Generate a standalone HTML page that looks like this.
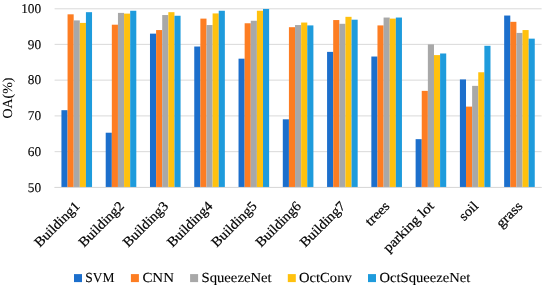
<!DOCTYPE html><html><head><meta charset="utf-8"><style>html,body{margin:0;padding:0;background:#fff}svg{display:block}text{font-family:"Liberation Serif",serif;font-size:13.8px;fill:#000;stroke:#000;stroke-width:0.1px;text-rendering:geometricPrecision}</style></head><body>
<svg width="550" height="289" viewBox="0 0 550 289">
<rect width="550" height="289" fill="#fff"/>
<line x1="54.6" x2="541.6" y1="8.80" y2="8.80" stroke="#d9d9d9" stroke-width="1"/>
<text x="21.21" y="12.80" style="font-size:13.4px;" textLength="20.00" lengthAdjust="spacingAndGlyphs">100</text>
<line x1="54.6" x2="541.6" y1="44.37" y2="44.37" stroke="#d9d9d9" stroke-width="1"/>
<text x="27.87" y="48.57" style="font-size:13.4px;" textLength="13.33" lengthAdjust="spacingAndGlyphs">90</text>
<line x1="54.6" x2="541.6" y1="80.14" y2="80.14" stroke="#d9d9d9" stroke-width="1"/>
<text x="27.87" y="84.34" style="font-size:13.4px;" textLength="13.33" lengthAdjust="spacingAndGlyphs">80</text>
<line x1="54.6" x2="541.6" y1="115.91" y2="115.91" stroke="#d9d9d9" stroke-width="1"/>
<text x="27.87" y="120.11" style="font-size:13.4px;" textLength="13.33" lengthAdjust="spacingAndGlyphs">70</text>
<line x1="54.6" x2="541.6" y1="151.68" y2="151.68" stroke="#d9d9d9" stroke-width="1"/>
<text x="27.87" y="155.88" style="font-size:13.4px;" textLength="13.33" lengthAdjust="spacingAndGlyphs">60</text>
<line x1="54.6" x2="541.6" y1="187.45" y2="187.45" stroke="#d9d9d9" stroke-width="1"/>
<text x="27.87" y="191.65" style="font-size:13.4px;" textLength="13.33" lengthAdjust="spacingAndGlyphs">50</text>
<rect x="61.44" y="110.19" width="6.12" height="77.26" fill="#1c6fcc"/>
<rect x="67.56" y="14.32" width="6.12" height="173.13" fill="#fd7d22"/>
<rect x="73.68" y="20.40" width="6.12" height="167.05" fill="#a8a8a8"/>
<rect x="79.80" y="22.91" width="6.12" height="164.54" fill="#ffc10e"/>
<rect x="85.92" y="12.18" width="6.12" height="175.27" fill="#1e9bdc"/>
<rect x="105.71" y="132.72" width="6.12" height="54.73" fill="#1c6fcc"/>
<rect x="111.83" y="24.70" width="6.12" height="162.75" fill="#fd7d22"/>
<rect x="117.95" y="12.89" width="6.12" height="174.56" fill="#a8a8a8"/>
<rect x="124.07" y="13.61" width="6.12" height="173.84" fill="#ffc10e"/>
<rect x="130.19" y="10.75" width="6.12" height="176.70" fill="#1e9bdc"/>
<rect x="149.98" y="33.64" width="6.12" height="153.81" fill="#1c6fcc"/>
<rect x="156.10" y="30.06" width="6.12" height="157.39" fill="#fd7d22"/>
<rect x="162.22" y="15.04" width="6.12" height="172.41" fill="#a8a8a8"/>
<rect x="168.34" y="12.18" width="6.12" height="175.27" fill="#ffc10e"/>
<rect x="174.46" y="15.75" width="6.12" height="171.70" fill="#1e9bdc"/>
<rect x="194.25" y="46.52" width="6.12" height="140.93" fill="#1c6fcc"/>
<rect x="200.37" y="18.62" width="6.12" height="168.83" fill="#fd7d22"/>
<rect x="206.49" y="25.05" width="6.12" height="162.40" fill="#a8a8a8"/>
<rect x="212.61" y="13.43" width="6.12" height="174.02" fill="#ffc10e"/>
<rect x="218.73" y="10.75" width="6.12" height="176.70" fill="#1e9bdc"/>
<rect x="238.53" y="58.68" width="6.12" height="128.77" fill="#1c6fcc"/>
<rect x="244.65" y="23.27" width="6.12" height="164.18" fill="#fd7d22"/>
<rect x="250.77" y="20.76" width="6.12" height="166.69" fill="#a8a8a8"/>
<rect x="256.89" y="10.75" width="6.12" height="176.70" fill="#ffc10e"/>
<rect x="263.01" y="8.96" width="6.12" height="178.49" fill="#1e9bdc"/>
<rect x="282.80" y="119.31" width="6.12" height="68.14" fill="#1c6fcc"/>
<rect x="288.92" y="27.20" width="6.12" height="160.25" fill="#fd7d22"/>
<rect x="295.04" y="25.05" width="6.12" height="162.40" fill="#a8a8a8"/>
<rect x="301.16" y="22.55" width="6.12" height="164.90" fill="#ffc10e"/>
<rect x="307.28" y="25.41" width="6.12" height="162.04" fill="#1e9bdc"/>
<rect x="327.07" y="51.88" width="6.12" height="135.57" fill="#1c6fcc"/>
<rect x="333.19" y="20.05" width="6.12" height="167.40" fill="#fd7d22"/>
<rect x="339.31" y="23.80" width="6.12" height="163.65" fill="#a8a8a8"/>
<rect x="345.43" y="16.83" width="6.12" height="170.62" fill="#ffc10e"/>
<rect x="351.55" y="19.69" width="6.12" height="167.76" fill="#1e9bdc"/>
<rect x="371.35" y="56.53" width="6.12" height="130.92" fill="#1c6fcc"/>
<rect x="377.47" y="25.41" width="6.12" height="162.04" fill="#fd7d22"/>
<rect x="383.59" y="17.54" width="6.12" height="169.91" fill="#a8a8a8"/>
<rect x="389.71" y="18.62" width="6.12" height="168.83" fill="#ffc10e"/>
<rect x="395.83" y="17.54" width="6.12" height="169.91" fill="#1e9bdc"/>
<rect x="415.62" y="139.16" width="6.12" height="48.29" fill="#1c6fcc"/>
<rect x="421.74" y="90.87" width="6.12" height="96.58" fill="#fd7d22"/>
<rect x="427.86" y="44.37" width="6.12" height="143.08" fill="#a8a8a8"/>
<rect x="433.98" y="55.10" width="6.12" height="132.35" fill="#ffc10e"/>
<rect x="440.10" y="53.49" width="6.12" height="133.96" fill="#1e9bdc"/>
<rect x="459.89" y="79.42" width="6.12" height="108.03" fill="#1c6fcc"/>
<rect x="466.01" y="106.61" width="6.12" height="80.84" fill="#fd7d22"/>
<rect x="472.13" y="85.86" width="6.12" height="101.59" fill="#a8a8a8"/>
<rect x="478.25" y="72.27" width="6.12" height="115.18" fill="#ffc10e"/>
<rect x="484.37" y="45.80" width="6.12" height="141.65" fill="#1e9bdc"/>
<rect x="504.16" y="15.54" width="6.12" height="171.91" fill="#1c6fcc"/>
<rect x="510.28" y="21.83" width="6.12" height="165.62" fill="#fd7d22"/>
<rect x="516.40" y="32.92" width="6.12" height="154.53" fill="#a8a8a8"/>
<rect x="522.52" y="30.06" width="6.12" height="157.39" fill="#ffc10e"/>
<rect x="528.64" y="38.65" width="6.12" height="148.80" fill="#1e9bdc"/>
<line x1="54.6" x2="541.6" y1="187.45" y2="187.45" stroke="#d9d9d9" stroke-width="1"/>
<text transform="translate(39.67,247.77) rotate(-45)" style="stroke-width:0.22px;" textLength="57.80" lengthAdjust="spacingAndGlyphs">Building1</text>
<text transform="translate(83.94,247.77) rotate(-45)" style="stroke-width:0.22px;" textLength="57.80" lengthAdjust="spacingAndGlyphs">Building2</text>
<text transform="translate(128.21,247.77) rotate(-45)" style="stroke-width:0.22px;" textLength="57.80" lengthAdjust="spacingAndGlyphs">Building3</text>
<text transform="translate(172.48,247.77) rotate(-45)" style="stroke-width:0.22px;" textLength="57.80" lengthAdjust="spacingAndGlyphs">Building4</text>
<text transform="translate(216.76,247.77) rotate(-45)" style="stroke-width:0.22px;" textLength="57.80" lengthAdjust="spacingAndGlyphs">Building5</text>
<text transform="translate(261.03,247.77) rotate(-45)" style="stroke-width:0.22px;" textLength="57.80" lengthAdjust="spacingAndGlyphs">Building6</text>
<text transform="translate(305.30,247.77) rotate(-45)" style="stroke-width:0.22px;" textLength="57.80" lengthAdjust="spacingAndGlyphs">Building7</text>
<text transform="translate(370.62,226.72) rotate(-45)" style="stroke-width:0.22px;" textLength="28.03" lengthAdjust="spacingAndGlyphs">trees</text>
<text transform="translate(388.59,253.03) rotate(-45)" style="stroke-width:0.22px;" textLength="65.24" lengthAdjust="spacingAndGlyphs">parking lot</text>
<text transform="translate(464.36,221.53) rotate(-45)" style="stroke-width:0.22px;" textLength="20.69" lengthAdjust="spacingAndGlyphs">soil</text>
<text transform="translate(501.59,228.57) rotate(-45)" style="stroke-width:0.22px;" textLength="30.65" lengthAdjust="spacingAndGlyphs">grass</text>
<text transform="translate(12.00,118.56) rotate(-90)" textLength="40.92" lengthAdjust="spacingAndGlyphs">OA(%)</text>
<rect x="74.0" y="274.1" width="8" height="8" fill="#1c6fcc"/>
<text x="85.20" y="281.80" textLength="29.23" lengthAdjust="spacingAndGlyphs">SVM</text>
<rect x="130.9" y="274.1" width="8" height="8" fill="#fd7d22"/>
<text x="142.40" y="281.80" textLength="31.61" lengthAdjust="spacingAndGlyphs">CNN</text>
<rect x="190.1" y="274.1" width="8" height="8" fill="#a8a8a8"/>
<text x="201.50" y="281.80" textLength="70.13" lengthAdjust="spacingAndGlyphs">SqueezeNet</text>
<rect x="287.8" y="274.1" width="8" height="8" fill="#ffc10e"/>
<text x="299.00" y="281.80" textLength="52.76" lengthAdjust="spacingAndGlyphs">OctConv</text>
<rect x="368.0" y="274.1" width="8" height="8" fill="#1e9bdc"/>
<text x="379.50" y="281.80" textLength="90.87" lengthAdjust="spacingAndGlyphs">OctSqueezeNet</text>
</svg></body></html>
